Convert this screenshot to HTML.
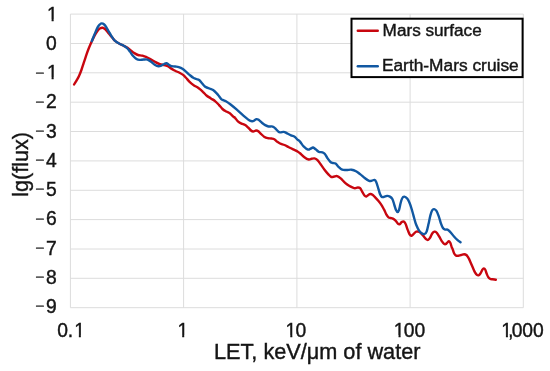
<!DOCTYPE html>
<html><head><meta charset="utf-8"><title>LET spectrum</title>
<style>
html,body{margin:0;padding:0;background:#fff;}
body{width:550px;height:371px;overflow:hidden;}
svg{display:block;font-family:"Liberation Sans",sans-serif;fill:#151515;}
text{stroke:#151515;stroke-width:0.4px;}
.grid line{stroke:#dcdcdc;stroke-width:1;}
.tick{font-size:19.3px;}
.minus{font-size:15px;fill:#4a4a4a;stroke:#4a4a4a;stroke-width:0.55px;}
.ttl{font-size:21.7px;}
.leg{font-size:16px;}
.c{fill:none;stroke-width:2.4;stroke-linecap:round;stroke-linejoin:round;}
</style></head><body>
<svg xmlns="http://www.w3.org/2000/svg" width="550" height="371" viewBox="0 0 550 371">
<defs>
<clipPath id="k1"><path clip-rule="evenodd" d="M0 0H550V371H0ZM47.09 19.11H51.64V22.20H47.09ZM53.61 19.11H58.01V22.20H53.61Z"/></clipPath>
<clipPath id="k2"><path clip-rule="evenodd" d="M0 0H550V371H0ZM47.09 77.11H51.64V80.20H47.09ZM53.61 77.11H58.01V80.20H53.61Z"/></clipPath>
<clipPath id="k3"><path clip-rule="evenodd" d="M0 0H550V371H0ZM74.32 335.11H78.87V338.20H74.32ZM80.83 335.11H85.24V338.20H80.83Z"/></clipPath>
<clipPath id="k4"><path clip-rule="evenodd" d="M0 0H550V371H0ZM177.67 335.11H182.22V338.20H177.67ZM184.19 335.11H188.59V338.20H184.19Z"/></clipPath>
<clipPath id="k5"><path clip-rule="evenodd" d="M0 0H550V371H0ZM285.77 335.11H290.32V338.20H285.77ZM292.29 335.11H296.69V338.20H292.29Z"/></clipPath>
<clipPath id="k6"><path clip-rule="evenodd" d="M0 0H550V371H0ZM394.03 335.11H398.58V338.20H394.03ZM400.55 335.11H404.95V338.20H400.55Z"/></clipPath>
<clipPath id="k7"><path clip-rule="evenodd" d="M0 0H550V371H0ZM501.37 335.11H505.92V338.20H501.37ZM507.89 335.11H509.89V338.20H507.89Z"/></clipPath>
</defs>
<rect width="550" height="371" fill="#fff"/>
<g class="grid">
<line x1="70.4" y1="14.1" x2="70.4" y2="307.7"/>
<line x1="183.6" y1="14.1" x2="183.6" y2="307.7"/>
<line x1="296.9" y1="14.1" x2="296.9" y2="307.7"/>
<line x1="410.1" y1="14.1" x2="410.1" y2="307.7"/>
<line x1="523.3" y1="14.1" x2="523.3" y2="307.7"/>
<line x1="70.4" y1="14.1" x2="523.3" y2="14.1"/>
<line x1="70.4" y1="43.5" x2="523.3" y2="43.5"/>
<line x1="70.4" y1="72.8" x2="523.3" y2="72.8"/>
<line x1="70.4" y1="102.2" x2="523.3" y2="102.2"/>
<line x1="70.4" y1="131.5" x2="523.3" y2="131.5"/>
<line x1="70.4" y1="160.9" x2="523.3" y2="160.9"/>
<line x1="70.4" y1="190.3" x2="523.3" y2="190.3"/>
<line x1="70.4" y1="219.6" x2="523.3" y2="219.6"/>
<line x1="70.4" y1="249.0" x2="523.3" y2="249.0"/>
<line x1="70.4" y1="278.3" x2="523.3" y2="278.3"/>
<line x1="70.4" y1="307.7" x2="523.3" y2="307.7"/>
</g>
<path class="c" stroke="#c8060f" d="M74.1 84.5C74.5 83.8 75.7 82.0 76.5 80.6C77.3 79.2 78.2 77.8 79.0 76.0C79.8 74.2 80.6 72.2 81.4 70.0C82.2 67.8 83.0 65.1 83.8 62.7C84.6 60.3 85.4 57.8 86.2 55.4C87.0 53.0 87.8 50.7 88.7 48.5C89.6 46.3 90.5 44.2 91.5 42.0C92.5 39.8 93.7 37.3 94.7 35.4C95.7 33.5 96.8 31.8 97.6 30.7C98.4 29.6 98.9 29.0 99.8 28.5C100.7 28.0 101.7 27.6 102.7 27.8C103.7 28.0 104.6 28.6 105.6 29.5C106.6 30.4 107.4 31.9 108.5 33.2C109.6 34.5 111.1 36.2 112.2 37.5C113.3 38.8 113.9 39.9 115.1 40.9C116.3 41.9 118.0 43.0 119.5 43.8C121.0 44.6 122.5 45.1 123.8 45.8C125.1 46.4 126.3 46.9 127.5 47.7C128.7 48.5 129.9 49.7 131.1 50.6C132.2 51.5 133.2 52.4 134.4 53.1C135.6 53.8 136.7 54.6 138.0 55.0C139.3 55.4 141.0 55.3 142.4 55.7C143.8 56.1 145.2 56.6 146.7 57.2C148.1 57.9 149.6 58.8 151.1 59.6C152.6 60.4 154.1 61.4 155.5 62.1C156.9 62.9 158.4 63.6 159.8 64.1C161.2 64.6 162.9 64.7 164.2 65.0C165.5 65.3 166.6 65.6 167.8 66.2C169.0 66.8 170.3 68.0 171.5 68.8C172.7 69.6 173.8 70.1 175.1 70.8C176.4 71.5 178.2 72.0 179.5 72.7C180.8 73.4 182.0 74.1 183.1 74.9C184.2 75.8 184.9 76.6 186.0 77.8C187.1 79.0 188.3 80.6 189.6 81.9C190.9 83.2 192.5 84.4 194.0 85.4C195.5 86.4 196.9 86.9 198.4 88.0C199.9 89.1 201.6 90.5 202.9 91.8C204.2 93.0 205.2 94.4 206.5 95.5C207.8 96.6 209.4 97.4 210.9 98.4C212.4 99.4 214.0 100.2 215.3 101.3C216.6 102.4 217.7 103.6 218.9 104.9C220.1 106.2 221.3 107.9 222.5 109.0C223.7 110.1 225.0 110.8 226.2 111.5C227.4 112.2 228.6 112.4 229.8 113.3C231.0 114.2 232.6 116.0 233.5 116.8C234.4 117.5 234.3 117.0 235.0 117.8C235.7 118.5 236.8 120.3 237.9 121.3C239.0 122.3 240.3 123.0 241.5 123.6C242.7 124.2 244.1 124.4 245.2 125.1C246.3 125.8 247.1 126.6 248.1 127.5C249.1 128.4 250.2 129.8 251.0 130.5C251.8 131.2 252.3 131.5 253.2 131.5C254.0 131.5 255.3 130.6 256.1 130.5C257.0 130.4 257.5 130.6 258.3 131.2C259.1 131.8 260.2 133.2 261.2 134.1C262.2 135.0 263.0 136.0 264.1 136.7C265.2 137.4 266.5 137.9 267.7 138.2C268.9 138.5 270.3 138.3 271.4 138.5C272.5 138.7 273.3 138.7 274.3 139.2C275.3 139.7 276.2 141.0 277.2 141.7C278.2 142.4 278.9 142.9 280.1 143.5C281.3 144.1 283.1 144.4 284.5 145.0C285.9 145.6 287.4 146.5 288.8 147.2C290.2 147.9 291.8 148.7 293.2 149.4C294.6 150.1 296.4 150.8 297.5 151.5C298.6 152.2 298.9 152.4 300.0 153.3C301.1 154.2 302.9 156.2 304.4 157.2C305.8 158.2 307.5 159.2 308.7 159.5C309.9 159.8 310.6 159.0 311.6 158.8C312.6 158.6 313.5 158.2 314.5 158.4C315.5 158.6 316.4 159.0 317.5 160.1C318.6 161.2 319.9 163.2 321.1 164.9C322.3 166.6 323.5 168.4 324.7 170.0C325.9 171.6 327.3 173.2 328.4 174.4C329.5 175.6 330.3 176.7 331.3 177.0C332.3 177.3 333.2 176.7 334.2 176.5C335.2 176.3 336.0 175.8 337.1 176.1C338.2 176.4 339.4 177.3 340.7 178.4C342.0 179.5 343.6 181.5 345.1 182.8C346.6 184.1 348.2 185.2 349.5 186.0C350.8 186.8 352.2 187.3 353.1 187.7C354.0 188.1 354.2 188.2 355.0 188.2C355.8 188.2 357.0 187.5 357.9 187.5C358.8 187.5 359.4 187.5 360.1 188.2C360.8 188.9 361.6 190.6 362.3 191.8C363.0 193.0 363.8 194.7 364.5 195.5C365.2 196.3 365.7 196.6 366.3 196.5C366.9 196.4 367.7 195.4 368.4 195.0C369.1 194.6 369.6 194.1 370.3 194.0C371.0 193.9 371.6 194.1 372.5 194.7C373.4 195.3 374.4 196.6 375.4 197.6C376.4 198.6 377.3 199.6 378.3 200.8C379.3 202.0 380.2 203.1 381.2 204.6C382.2 206.1 383.2 208.0 384.1 209.6C385.0 211.2 385.6 213.1 386.3 214.4C387.0 215.7 387.8 216.7 388.5 217.3C389.2 217.9 389.9 217.8 390.6 218.0C391.3 218.2 392.0 218.1 392.9 218.6C393.8 219.1 394.9 220.0 395.8 220.9C396.7 221.8 397.3 223.3 398.0 223.8C398.7 224.3 399.2 224.4 399.9 224.1C400.5 223.8 401.2 222.3 401.9 221.9C402.5 221.5 403.2 221.1 403.8 221.5C404.4 221.9 405.1 222.7 405.7 224.1C406.3 225.5 407.0 228.2 407.7 229.9C408.4 231.6 409.0 233.3 409.6 234.3C410.2 235.3 410.8 235.8 411.5 235.7C412.2 235.6 412.9 234.7 413.6 234.0C414.3 233.3 415.1 232.1 415.9 231.7C416.7 231.3 417.5 231.4 418.4 231.7C419.3 232.0 420.3 232.6 421.3 233.5C422.3 234.4 423.4 235.9 424.2 236.9C425.0 237.9 425.8 238.9 426.4 239.4C427.0 239.9 427.5 240.1 428.1 239.8C428.7 239.6 429.3 239.0 430.0 237.9C430.7 236.8 431.5 234.5 432.2 233.5C432.9 232.5 433.7 231.9 434.4 231.7C435.1 231.5 435.7 231.7 436.5 232.5C437.3 233.3 438.3 235.1 439.2 236.5C440.1 237.9 440.8 239.6 441.6 240.8C442.4 242.0 443.1 243.1 443.8 243.7C444.5 244.3 445.0 244.4 445.6 244.2C446.2 244.0 446.9 242.8 447.5 242.3C448.1 241.8 448.4 241.2 448.9 241.3C449.4 241.4 449.9 242.0 450.4 243.0C450.9 244.0 451.4 246.5 451.8 247.4C452.2 248.3 452.1 247.7 452.5 248.7C452.9 249.7 453.6 252.3 454.2 253.5C454.8 254.7 455.4 255.2 456.1 255.6C456.8 256.0 457.5 255.8 458.3 255.7C459.1 255.6 460.2 255.2 461.2 255.0C462.2 254.8 463.2 254.3 464.1 254.3C465.0 254.3 465.6 254.4 466.3 255.0C467.0 255.6 467.8 256.6 468.5 257.9C469.2 259.1 469.9 260.9 470.6 262.5C471.3 264.1 472.1 266.0 472.8 267.6C473.5 269.2 474.3 271.2 475.0 272.4C475.7 273.6 476.3 274.4 476.9 274.9C477.5 275.4 478.0 275.5 478.6 275.3C479.2 275.1 479.8 274.4 480.4 273.5C481.0 272.6 481.8 270.7 482.3 269.8C482.9 268.9 483.2 268.4 483.7 268.4C484.2 268.3 484.7 268.6 485.2 269.5C485.7 270.4 486.1 272.3 486.6 273.5C487.1 274.7 487.5 275.9 488.1 276.8C488.7 277.7 489.3 278.4 490.0 278.8C490.7 279.2 491.5 279.2 492.5 279.3C493.5 279.4 495.2 279.6 495.8 279.7"/>
<path class="c" stroke="#1158a2" d="M91.8 41.2C92.3 40.0 93.7 36.2 94.7 33.9C95.7 31.6 96.8 29.0 97.6 27.4C98.4 25.8 99.1 25.2 99.8 24.5C100.5 23.8 101.0 23.4 101.7 23.4C102.4 23.4 103.4 23.8 104.2 24.5C105.0 25.2 105.6 26.1 106.4 27.4C107.2 28.7 108.3 30.9 109.3 32.5C110.3 34.1 111.2 35.9 112.2 37.3C113.2 38.7 113.9 39.8 115.1 40.9C116.3 42.0 118.0 43.0 119.5 43.8C121.0 44.6 122.5 45.0 123.8 45.8C125.1 46.6 126.5 47.5 127.5 48.5C128.5 49.5 129.1 50.4 130.0 51.6C130.9 52.8 131.8 54.5 132.9 55.7C134.0 56.9 135.4 58.2 136.5 58.9C137.6 59.6 138.3 59.8 139.5 59.9C140.7 60.0 142.5 59.5 143.8 59.5C145.1 59.5 146.3 59.2 147.5 59.6C148.7 60.0 149.9 60.9 151.1 61.8C152.3 62.6 153.5 64.0 154.7 64.7C155.9 65.4 157.3 66.1 158.4 66.2C159.5 66.3 160.3 66.0 161.3 65.6C162.3 65.2 163.3 64.4 164.2 64.0C165.0 63.6 165.7 63.2 166.4 63.3C167.1 63.4 167.7 63.9 168.5 64.4C169.3 64.9 170.4 65.9 171.5 66.2C172.6 66.5 173.9 66.3 175.1 66.5C176.3 66.7 177.5 66.7 178.7 67.1C179.9 67.5 181.2 68.0 182.4 68.8C183.6 69.6 184.8 70.7 186.0 71.7C187.2 72.7 188.4 73.9 189.6 74.9C190.8 75.9 192.2 77.1 193.3 77.8C194.4 78.5 195.2 78.6 196.2 79.0C197.2 79.4 198.1 79.3 199.1 80.0C200.1 80.7 201.0 82.1 202.0 83.2C203.0 84.3 203.9 85.7 204.9 86.5C205.9 87.3 207.0 87.6 207.8 87.9C208.6 88.2 208.6 88.1 209.5 88.5C210.4 88.9 211.9 89.3 213.1 90.1C214.3 90.9 215.6 92.2 216.7 93.3C217.8 94.4 218.8 95.9 219.6 96.9C220.4 97.9 220.8 98.7 221.8 99.4C222.9 100.1 224.5 100.4 225.9 101.2C227.3 102.0 228.5 102.8 230.3 104.2C232.1 105.6 234.6 107.7 236.8 109.6C239.0 111.5 241.4 113.9 243.4 115.6C245.4 117.3 247.4 119.0 248.8 120.0C250.2 121.0 251.2 121.2 252.1 121.3C253.0 121.4 253.6 120.9 254.3 120.5C255.0 120.1 255.8 119.2 256.5 119.1C257.2 119.0 257.7 119.2 258.6 119.8C259.5 120.4 260.8 121.8 261.9 122.7C263.0 123.6 264.1 124.5 265.2 125.1C266.3 125.7 267.4 126.3 268.5 126.5C269.6 126.7 270.8 126.3 271.7 126.4C272.6 126.5 273.3 126.9 273.9 127.2C274.5 127.5 274.6 127.7 275.3 128.4C276.0 129.1 277.1 130.5 277.9 131.2C278.7 131.9 279.1 132.3 280.1 132.4C281.1 132.5 282.6 131.8 283.7 131.9C284.8 132.0 285.4 132.5 286.6 133.1C287.8 133.7 289.7 134.7 291.0 135.3C292.3 135.9 293.5 136.0 294.6 136.7C295.7 137.4 296.6 138.8 297.5 139.6C298.4 140.4 299.0 140.5 300.0 141.6C301.0 142.7 302.3 145.1 303.6 146.4C304.9 147.7 306.8 149.2 308.0 149.6C309.2 149.9 310.0 148.8 310.9 148.5C311.8 148.2 312.2 147.3 313.1 147.5C314.0 147.7 315.0 148.9 316.0 149.6C317.0 150.3 317.8 151.4 318.9 151.8C320.0 152.2 321.5 152.0 322.5 152.3C323.5 152.6 323.8 152.7 324.7 153.7C325.6 154.7 326.6 157.0 327.6 158.4C328.6 159.8 329.6 161.2 330.5 162.0C331.4 162.8 331.8 162.8 332.7 163.0C333.6 163.2 334.6 162.9 335.6 163.5C336.6 164.1 337.4 165.8 338.5 166.8C339.6 167.8 340.9 169.2 342.2 169.7C343.5 170.2 344.9 170.0 346.5 170.0C348.1 170.0 350.0 169.5 351.6 169.7C353.2 169.9 354.5 170.4 356.0 171.2C357.5 172.0 358.9 173.3 360.4 174.4C361.8 175.5 363.2 176.9 364.7 178.0C366.1 179.1 367.9 180.5 369.1 180.9C370.3 181.3 371.1 180.8 372.0 180.6C372.9 180.4 373.8 179.7 374.5 179.9C375.2 180.1 375.6 180.6 376.2 181.9C376.8 183.2 377.5 185.8 378.1 187.8C378.7 189.8 379.4 192.5 380.0 194.0C380.6 195.5 381.2 196.4 381.9 196.9C382.6 197.4 383.2 197.1 384.1 196.9C385.0 196.7 386.0 196.0 387.0 195.9C388.0 195.8 389.0 196.1 389.9 196.6C390.8 197.1 391.7 197.7 392.5 199.2C393.3 200.7 393.9 203.7 394.5 205.5C395.1 207.3 395.5 208.9 396.0 210.0C396.5 211.1 397.1 212.0 397.6 212.0C398.1 212.0 398.5 211.4 399.0 210.0C399.5 208.6 400.0 205.5 400.5 203.5C401.0 201.5 401.6 199.3 402.2 198.2C402.8 197.0 403.5 196.5 404.3 196.6C405.1 196.7 406.3 197.5 407.2 198.6C408.1 199.7 408.8 201.2 409.6 203.0C410.4 204.8 411.1 207.1 411.8 209.5C412.5 211.9 413.3 214.9 414.0 217.5C414.7 220.1 415.3 222.6 416.2 224.8C417.1 227.0 418.1 229.2 419.1 230.6C420.1 232.0 421.1 232.9 422.0 233.5C422.9 234.1 423.8 234.3 424.6 234.0C425.4 233.7 426.1 233.1 426.7 231.4C427.3 229.8 427.9 226.8 428.5 224.1C429.1 221.4 429.8 217.7 430.4 215.4C431.0 213.1 431.6 211.4 432.2 210.3C432.8 209.2 433.4 209.0 434.1 209.1C434.8 209.2 435.5 209.5 436.3 210.7C437.1 211.9 437.9 214.0 438.7 216.1C439.5 218.2 440.2 221.4 440.9 223.4C441.6 225.4 442.4 227.2 443.1 228.2C443.8 229.2 444.6 229.4 445.3 229.6C446.0 229.8 446.6 229.2 447.5 229.6C448.4 230.0 449.3 230.9 450.4 232.1C451.5 233.2 452.8 235.2 454.0 236.5C455.2 237.8 456.5 239.1 457.6 240.1C458.7 241.1 460.0 241.9 460.5 242.3"/>
<rect x="351.5" y="18.7" width="171.1" height="58.4" fill="#fff" stroke="#000" stroke-width="2"/>
<line x1="357.8" y1="30.8" x2="377.8" y2="30.8" stroke="#c8060f" stroke-width="2.4" stroke-linecap="round"/>
<line x1="357.8" y1="66.3" x2="377.8" y2="66.3" stroke="#1158a2" stroke-width="2.4" stroke-linecap="round"/>
<text class="tick" clip-path="url(#k1)"><tspan x="46.92" y="21">1</tspan></text>
<text class="tick"><tspan x="56.75" y="50" text-anchor="end">0</tspan></text>
<text class="tick" clip-path="url(#k2)"><tspan class="minus" x="35.50" y="78">−</tspan><tspan x="46.92" y="79">1</tspan></text>
<text class="tick"><tspan class="minus" x="35.50" y="107">−</tspan><tspan x="56.75" y="108" text-anchor="end">2</tspan></text>
<text class="tick"><tspan class="minus" x="35.50" y="136">−</tspan><tspan x="56.75" y="138" text-anchor="end">3</tspan></text>
<text class="tick"><tspan class="minus" x="35.50" y="165">−</tspan><tspan x="56.75" y="167" text-anchor="end">4</tspan></text>
<text class="tick"><tspan class="minus" x="35.50" y="194">−</tspan><tspan x="56.75" y="196" text-anchor="end">5</tspan></text>
<text class="tick"><tspan class="minus" x="35.50" y="224">−</tspan><tspan x="56.75" y="225" text-anchor="end">6</tspan></text>
<text class="tick"><tspan class="minus" x="35.50" y="253">−</tspan><tspan x="56.75" y="255" text-anchor="end">7</tspan></text>
<text class="tick"><tspan class="minus" x="35.50" y="282">−</tspan><tspan x="56.75" y="284" text-anchor="end">8</tspan></text>
<text class="tick"><tspan class="minus" x="35.50" y="311">−</tspan><tspan x="56.75" y="313" text-anchor="end">9</tspan></text>
<text class="tick" clip-path="url(#k3)"><tspan x="57.15" y="337">0.</tspan><tspan x="74.15" y="337">1</tspan></text>
<text class="tick" clip-path="url(#k4)"><tspan x="177.50" y="337">1</tspan></text>
<text class="tick" clip-path="url(#k5)"><tspan x="285.60" y="337">1</tspan><tspan x="295.43" y="337">0</tspan></text>
<text class="tick" clip-path="url(#k6)"><tspan x="393.86" y="337">1</tspan><tspan x="403.69" y="337">00</tspan></text>
<text class="tick" clip-path="url(#k7)"><tspan x="501.20" y="337">1</tspan><tspan x="508.10" y="337">,</tspan><tspan x="543.80" y="337" text-anchor="end">000</tspan></text>
<text class="ttl" x="214.00" y="359.40" textLength="206.48" lengthAdjust="spacingAndGlyphs">LET, keV/μm of water</text>
<text class="leg" x="382.64" y="36.00" textLength="99.06" lengthAdjust="spacingAndGlyphs">Mars surface</text>
<text class="leg" x="381.92" y="71.20" textLength="136.78" lengthAdjust="spacingAndGlyphs">Earth-Mars cruise</text>
<text class="ttl" transform="translate(28.10,196.72) rotate(-90)" textLength="64.61" lengthAdjust="spacingAndGlyphs">lg(flux)</text>
</svg>
</body></html>
